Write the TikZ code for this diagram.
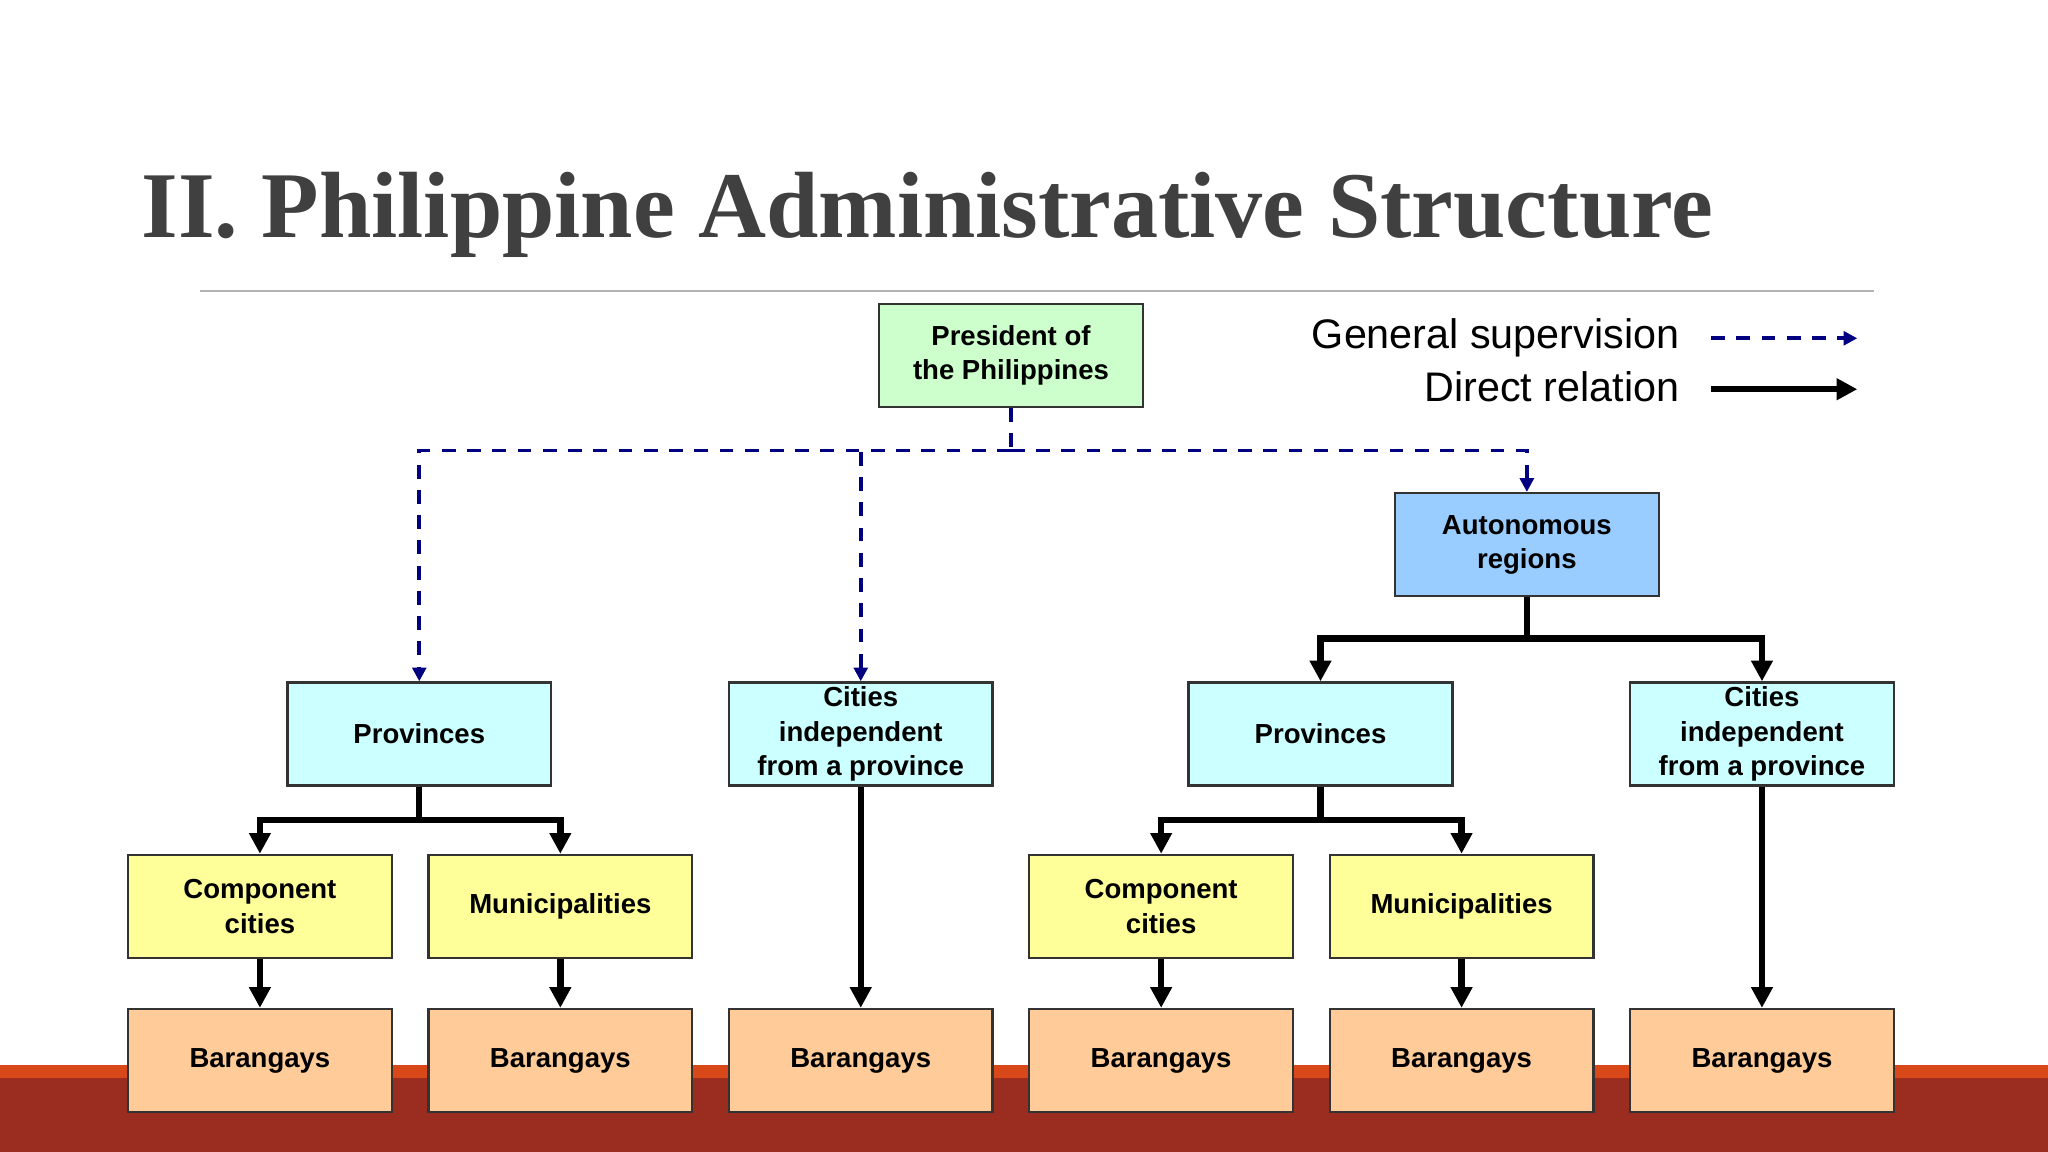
\documentclass[tikz,border=0pt]{standalone}
\usepackage{fontspec}
\setmainfont{Liberation Sans}
\newfontfamily\titlefont{Liberation Serif}
\usetikzlibrary{arrows.meta}
\definecolor{ttl}{HTML}{404040}
\definecolor{navyc}{HTML}{000080}
\definecolor{bandor}{HTML}{D84818}
\definecolor{bandred}{HTML}{9B2D20}
\tikzset{
 bx/.style={draw=black!80,line width=1pt,minimum width=4.04cm,minimum height=1.58cm,align=center,font=\bfseries\fontsize{12}{15}\selectfont,inner sep=1pt},
 green/.style={bx,fill={rgb,255:red,204;green,255;blue,204}},
 blue/.style={bx,fill={rgb,255:red,153;green,204;blue,255}},
 cyan/.style={bx,fill={rgb,255:red,204;green,255;blue,255}},
 yel/.style={bx,fill={rgb,255:red,255;green,255;blue,153}},
 ora/.style={bx,fill={rgb,255:red,255;green,204;blue,153}},
 sup/.style={navyc,line width=1.6pt,dash pattern=on 6pt off 5pt,-{Triangle[length=6pt,width=6pt]}},
 dir/.style={black,line width=2.8pt,-{Triangle[length=9pt,width=9pt]}},
 dirl/.style={black,line width=2.8pt},
}
\begin{document}
\begin{tikzpicture}[x=0.02cm,y=-0.02cm]
\useasboundingbox (0,0) rectangle (1568,882);
\fill[white] (0,0) rectangle (1568,882);
\fill[bandor] (0,815) rectangle (1568,826);
\fill[bandred] (0,825) rectangle (1568,882);
\node[anchor=base west,inner sep=0,text=ttl,font=\titlefont\bfseries\fontsize{41}{48}\selectfont] (title) at (108,182) {II. Philippine Administrative Structure};
\draw[black!30,line width=0.8pt] (153,223) -- (1435,223);
% legend
\node[anchor=east,inner sep=0,font=\fontsize{18}{22}\selectfont] (l1) at (1286,259) {General supervision};
\node[anchor=east,inner sep=0,font=\fontsize{18}{22}\selectfont] (l2) at (1286,296) {Direct relation};
\coordinate (l1a) at (1310,259); \coordinate (l1b) at (1422,259);
\coordinate (l2a) at (1310,298); \coordinate (l2b) at (1422,298);
\draw[sup] (l1a) -- (l1b);
\draw[dir] (l2a) -- (l2b);
% nodes
\node[green] (pres) at (774,272) {President of\\the Philippines};
\node[blue] (auto) at (1169,417) {Autonomous\\regions};
\node[cyan] (prov1) at (321,562) {Provinces};
\node[cyan] (city1) at (659,562) {Cities\\independent\\from a province};
\node[cyan] (prov2) at (1011,562) {Provinces};
\node[cyan] (city2) at (1349,562) {Cities\\independent\\from a province};
\node[yel] (comp1) at (199,694) {Component\\cities};
\node[yel] (mun1) at (429,694) {Municipalities};
\node[yel] (comp2) at (889,694) {Component\\cities};
\node[yel] (mun2) at (1119,694) {Municipalities};
\foreach \i/\x in {1/199,2/429,3/659,4/889,5/1119,6/1349}
  \node[ora] (b\i) at (\x,812) {Barangays};
% supervision
\coordinate (sj) at (774,345);
\draw[navyc,line width=1.6pt,dash pattern=on 6pt off 5pt] (pres.south) -- (sj);
\draw[sup] (sj) -| (prov1.north);
\draw[sup] (sj) -| (city1.north);
\draw[sup] (sj) -| (auto.north);
% direct
\coordinate (aj) at (1169,489);
\draw[dirl] (auto.south) -- (aj);
\draw[dir] (aj) -| (prov2.north);
\draw[dir] (aj) -| (city2.north);
\coordinate (p1j) at (321,628);
\draw[dirl] (prov1.south) -- (p1j);
\draw[dir] (p1j) -| (comp1.north);
\draw[dir] (p1j) -| (mun1.north);
\coordinate (p2j) at (1011,628);
\draw[dirl] (prov2.south) -- (p2j);
\draw[dir] (p2j) -| (comp2.north);
\draw[dir] (p2j) -| (mun2.north);
\draw[dir] (comp1) -- (b1);
\draw[dir] (mun1) -- (b2);
\draw[dir] (city1) -- (b3);
\draw[dir] (comp2) -- (b4);
\draw[dir] (mun2) -- (b5);
\draw[dir] (city2) -- (b6);
\end{tikzpicture}
\end{document}
